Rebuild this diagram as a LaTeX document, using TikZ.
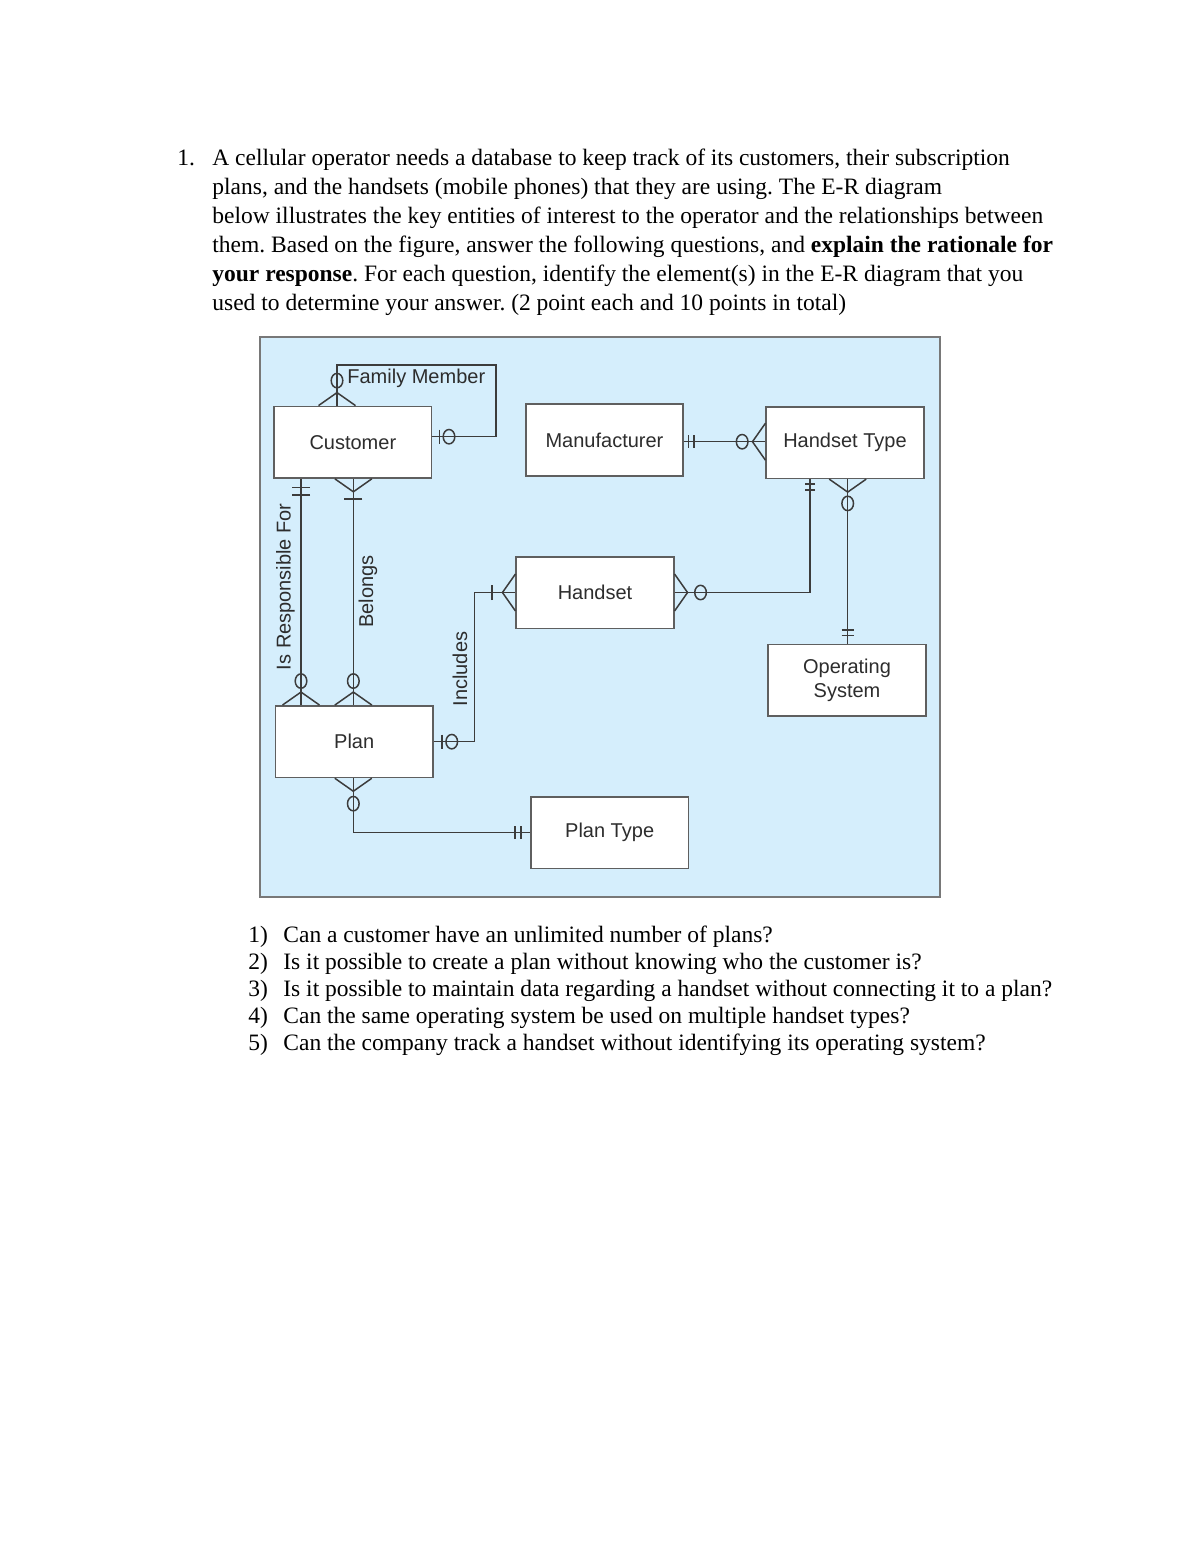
\documentclass[tikz,border=0pt]{standalone}
\usepackage{fontspec}
\setmainfont{Liberation Serif}
\newfontfamily\diagfont{Liberation Sans}
\usetikzlibrary{calc}
\definecolor{bgblue}{RGB}{213,238,252}
\definecolor{boxgray}{RGB}{95,95,95}
\definecolor{framegray}{RGB}{120,120,120}
\definecolor{linegray}{RGB}{60,60,60}
\definecolor{txtgray}{RGB}{45,45,45}
\def\barh{7}
\frenchspacing
\begin{document}
\begin{tikzpicture}[x=0.5pt,y=-0.5pt,
  erl/.style={draw=linegray,line width=0.75pt},
  entity/.style={draw=boxgray,fill=white,line width=0.8pt,minimum width=78.75pt,minimum height=35.8pt,inner sep=0pt,font=\diagfont\fontsize{10pt}{12pt}\selectfont,text=txtgray,align=center},
  rel/.style={font=\diagfont\fontsize{10pt}{12pt}\selectfont,text=txtgray,inner sep=0pt,rotate=90},
  body/.style={anchor=base west,inner sep=0pt,font=\fontsize{11.75pt}{14pt}\selectfont},
  barh/.code={\def\barh{#1}},
  crowfoot/.pic={\draw[erl] (0,-18.5) -- (13,0) -- (0,18.5);},
  erbar/.pic={\draw[erl] (#1,-\barh) -- (#1,\barh);},
  ering/.pic={\begin{scope}[shift={(#1,0)}]\pgftransformresetnontranslations\draw[erl] (0,0) ellipse [x radius=2.9pt,y radius=3.6pt];\end{scope}}
]
\useasboundingbox (0,0) rectangle (1200,1553);

% question text
\node[body] (n1) at (177,165) {1.};
\node[body] (l1) at (212,165) {A cellular operator needs a database to keep track of its customers, their subscription};
\node[body] (l2) at (212,194) {plans, and the handsets (mobile phones) that they are using. The E-R diagram};
\node[body] (l3) at (212,223) {below illustrates the key entities of interest to the operator and the relationships between};
\node[body] (l4) at (212,252.5) {them. Based on the figure, answer the following questions, and \textbf{explain the rationale for}};
\node[body] (l5) at (212,281) {\textbf{your response}. For each question, identify the element(s) in the E-R diagram that you};
\node[body] (l6) at (212,310) {used to determine your answer. (2 point each and 10 points in total)};

% diagram background
\draw[draw=framegray,line width=0.8pt,fill=bgblue] (260,337) rectangle (940,897);

% entities
\node[entity] (cust) at (352.85,442.2) {Customer};
\node[entity] (manu) at (604.5,440) {Manufacturer};
\node[entity] (htype) at (845,442.5) {Handset Type};
\node[entity] (hset) at (595,592.5) {Handset};
\node[entity] (os) at (847,680.35) {Operating\\System};
\node[entity] (plan) at (354.2,741.65) {Plan};
\node[entity] (ptype) at (609.65,832.5) {Plan Type};

% Family Member (recursive)
\coordinate (fmA) at ($(cust.north west)+(63.7,0)$);
\coordinate (fmB) at ($(cust.east)+(0,-5.5)$);
\coordinate (fmC) at (496,365);
\draw[erl] (fmA) |- (fmC) |- (fmB);
\pic[rotate=90] at (fmA) {crowfoot};
\pic[rotate=90] at (fmA) {ering=25};
\pic[barh=7] at (fmB) {erbar=7.3};
\pic at (fmB) {ering=16.6};
\node[anchor=base west,inner sep=0pt,font=\diagfont\fontsize{10pt}{12pt}\selectfont,text=txtgray] (fmlabel) at (347,383) {Family Member};

% Is Responsible For
\coordinate (irA) at ($(cust.south west)+(27.7,0)$);
\coordinate (irB) at (irA |- plan.north);
\draw[erl] (irA) -- (irB);
\pic[rotate=-90,barh=9] at (irA) {erbar=8.7};
\pic[rotate=-90,barh=9] at (irA) {erbar=16};
\pic[rotate=90] at (irB) {ering=24};
\pic[rotate=90] at (irB) {crowfoot};
\node[rel] (irlabel) at (285.5,586.7) {Is Responsible For};

% Belongs
\coordinate (bgA) at ($(cust.south)+(0.5,0)$);
\coordinate (bgB) at (bgA |- plan.north);
\draw[erl] (bgA) -- (bgB);
\pic[rotate=-90] at (bgA) {crowfoot};
\pic[rotate=-90,barh=9] at (bgA) {erbar=20};
\pic[rotate=90] at (bgB) {ering=24};
\pic[rotate=90] at (bgB) {crowfoot};
\node[rel] (bglabel) at (368,591.5) {Belongs};

% Includes
\coordinate (inA) at (plan.east);
\coordinate (inB) at (hset.west);
\coordinate (inC) at (474.3,741.65);
\draw[erl] (inA) -- (inC) |- (inB);
\pic[barh=7] at (inA) {erbar=8.3};
\pic at (inA) {ering=18};
\pic[rotate=180] at (inB) {crowfoot};
\pic[rotate=180,barh=7.5] at (inB) {erbar=23.4};
\node[rel] (inlabel) at (460,669) {Includes};

% Handset - Handset Type
\coordinate (hhA) at (hset.east);
\coordinate (hhB) at ($(htype.south west)+(44.7,0)$);
\draw[erl] (hhA) -| (hhB);
\pic at (hhA) {crowfoot};
\pic at (hhA) {ering=26};
\pic[rotate=-90,barh=5] at (hhB) {erbar=5};
\pic[rotate=-90,barh=5] at (hhB) {erbar=11};

% Handset Type - Operating System
\coordinate (hoA) at ($(htype.south)+(2.7,0)$);
\coordinate (hoB) at (hoA |- os.north);
\draw[erl] (hoA) -- (hoB);
\pic[rotate=-90] at (hoA) {crowfoot};
\pic[rotate=-90] at (hoA) {ering=24.3};
\pic[rotate=90,barh=6] at (hoB) {erbar=8.3};
\pic[rotate=90,barh=6] at (hoB) {erbar=14};

% Manufacturer - Handset Type
\coordinate (mhA) at ($(manu.east)+(0,1.7)$);
\coordinate (mhB) at (mhA -| htype.west);
\draw[erl] (mhA) -- (mhB);
\pic[barh=6.5] at (mhA) {erbar=4.4};
\pic[barh=6.5] at (mhA) {erbar=10};
\pic[rotate=180] at (mhB) {crowfoot};
\pic[rotate=180] at (mhB) {ering=23.3};

% Plan - Plan Type
\coordinate (ppA) at ($(plan.south)+(-0.9,0)$);
\coordinate (ppB) at (ptype.west);
\draw[erl] (ppA) |- (ppB);
\pic[rotate=-90] at (ppA) {crowfoot};
\pic[rotate=-90] at (ppA) {ering=25.4};
\pic[rotate=180,barh=6.7] at (ppB) {erbar=9.3};
\pic[rotate=180,barh=6.7] at (ppB) {erbar=15};

% questions
\node[body] (q1n) at (248,942) {1)};
\node[body] (q1) at (283,942) {Can a customer have an unlimited number of plans?};
\node[body] (q2n) at (248,969) {2)};
\node[body] (q2) at (283,969) {Is it possible to create a plan without knowing who the customer is?};
\node[body] (q3n) at (248,996) {3)};
\node[body] (q3) at (283,996) {Is it possible to maintain data regarding a handset without connecting it to a plan?};
\node[body] (q4n) at (248,1023) {4)};
\node[body] (q4) at (283,1023) {Can the same operating system be used on multiple handset types?};
\node[body] (q5n) at (248,1050) {5)};
\node[body] (q5) at (283,1050) {Can the company track a handset without identifying its operating system?};
\end{tikzpicture}
\end{document}
